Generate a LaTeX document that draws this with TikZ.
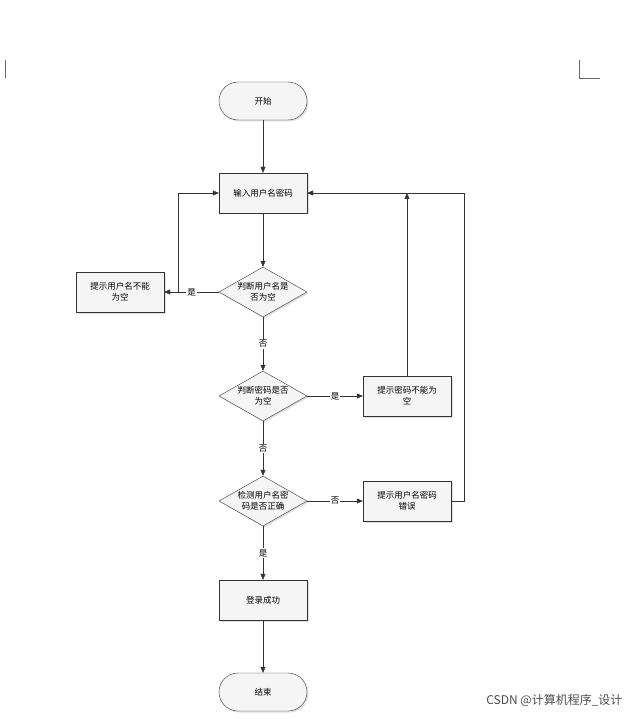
\documentclass[tikz,border=0pt]{standalone}
\usepackage{fontspec}
\setmainfont{Noto Sans CJK SC}
\usetikzlibrary{shapes.geometric,arrows.meta,shadows}
\begin{document}
\begin{tikzpicture}[x=1pt,y=-1pt,
 every node/.style={font=\fontsize{8.5}{11}\selectfont,align=center},
 box/.style={draw=black!80,fill=black!4,minimum width=88pt,minimum height=40pt,inner sep=1pt,drop shadow={opacity=0.25,shadow xshift=1.5pt,shadow yshift=-1.5pt}},
 term/.style={box,rounded corners=19pt,minimum height=38pt},
 dia/.style={draw=black!80,fill=black!4,diamond,aspect=1.76,minimum width=88pt,minimum height=50pt,inner sep=0pt,drop shadow={opacity=0.25,shadow xshift=1.5pt,shadow yshift=-1.5pt}},
 lbl/.style={fill=white,inner sep=1pt},
 ar/.style={draw=black!80,-{Triangle[length=6pt,width=5pt]}}]
\useasboundingbox (0,0) rectangle (637,719);
\draw[black!60] (5,60)--(5,78);
\draw[black!60] (579,60)--(579,78)--(600,78);
\node[term] (start) at (263,101) {开始};
\node[box] (in) at (263,193) {输入用户名密码};
\node[dia] (d1) at (263,292) {判断用户名是\\否为空};
\node[box] (e1) at (120,292) {提示用户名不能\\为空};
\node[dia] (d2) at (263,396) {判断密码是否\\为空};
\node[box] (e2) at (407,396) {提示密码不能为\\空};
\node[dia] (d3) at (263,501) {检测用户名密\\码是否正确};
\node[box] (e3) at (407,501) {提示用户名密码\\错误};
\node[box] (ok) at (263,600) {登录成功};
\node[term] (end) at (263,692) {结束};
\coordinate (c1) at (178,292);
\coordinate (c1t) at (178,193);
\coordinate (c2) at (407,193);
\coordinate (c3) at (464,501);
\coordinate (c3t) at (464,193);
\draw[ar] (start)--(in);
\draw[ar] (in)--(d1);
\draw[ar] (d1)--node[lbl]{是}(e1);
\draw[ar] (c1)--(c1t)--(in);
\draw[ar] (d1)--node[lbl]{否}(d2);
\draw[ar] (d2)--node[lbl]{是}(e2);
\draw[ar] (e2)--(c2);
\draw[ar] (d2)--node[lbl]{否}(d3);
\draw[ar] (d3)--node[lbl]{否}(e3);
\draw[ar] (e3.east)--(c3)--(c3t)--(in.east);
\draw[ar] (d3)--node[lbl]{是}(ok);
\draw[ar] (ok)--(end);
\node[font=\fontsize{12}{14}\selectfont,text=black!70,anchor=east] (wm) at (626,700) {CSDN @计算机程序\_设计};
\end{tikzpicture}
\end{document}
